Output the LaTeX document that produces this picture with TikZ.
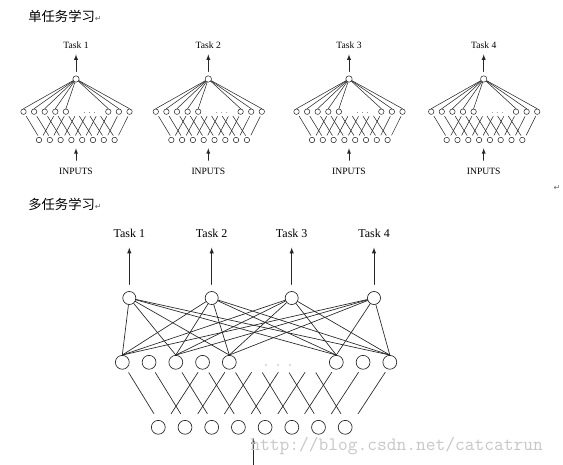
\documentclass[tikz,border=0pt]{standalone}
\usepackage{fontspec}
\setmainfont{Liberation Serif}
\newfontfamily\cjkfont{Noto Sans CJK SC}
\newfontfamily\retfont{DejaVu Sans}
\usetikzlibrary{arrows}
\usetikzlibrary{calc}

\newcommand{\wordret}{{\retfont\fontsize{6}{6}\selectfont\color{black!60}↵}}

\tikzset{
  neuron/.style={circle, draw=black!85, line width=0.5pt, inner sep=0pt, minimum size=10.4pt},
  tinyneuron/.style={circle, draw=black!85, line width=0.4pt, inner sep=0pt, minimum size=4.1pt},
  bigwire/.style={draw=black!85, line width=0.5pt},
  smallwire/.style={draw=black!85, line width=0.4pt},
  heading/.style={anchor=west, inner sep=0pt, font=\cjkfont\fontsize{10}{12}\selectfont},
  bigtask/.style={font=\fontsize{9}{10}\selectfont},
  smalltask/.style={font=\fontsize{7.2}{8}\selectfont},
}

\begin{document}
\begin{tikzpicture}[x=0.75pt, y=-0.75pt, >=latex, line cap=round, line join=round]
  \useasboundingbox (0,0) rectangle (563,464);
  %--- Headings
    \node[heading] (single) at (28,16) {单任务学习\wordret};
    \node[heading] (multi) at (28,204) {多任务学习\wordret};
    \node[inner sep=0pt] (endmark) at (557,188) {\wordret};
  %--- Single task nets
    \foreach \n/\cx in {1/76, 2/208.3, 3/349, 4/483.7} {
      \node[smalltask] (task\n) at (\cx,45) {Task \n};
      \node[tinyneuron, minimum size=4.8pt] (s\n-out) at (\cx,79) {};
      \draw[->, smallwire, shorten <=3pt, shorten >=1pt] (s\n-out) -- (task\n);
      % hidden layer, slots 6-8 are the gap
      \foreach \k in {6,7,8}
        \coordinate (s\n-h\k) at ({\cx-52.5+10.6*(\k-1)},111.7);
      \foreach \k in {1,...,5,9,10,11} {
        \node[tinyneuron] (s\n-h\k) at ({\cx-52.5+10.6*(\k-1)},111.7) {};
        \draw[smallwire] (s\n-out) -- (s\n-h\k.north);
      }
      \foreach \d in {8.5,13.5,18.5}
        \fill[black!70] ({\cx+\d},112.5) circle (0.3pt);
      % input layer
      \foreach \k in {1,...,8}
        \node[tinyneuron] (s\n-i\k) at ({\cx-37+10.8*(\k-1)},140) {};
      \foreach \k [evaluate=\k as \j using int(\k+3)] in {1,...,8} {
        \draw[smallwire, shorten <=4pt, shorten >=4pt] (s\n-h\k.center) -- ([xshift=1.2pt]s\n-i\k.center);
        \draw[smallwire, shorten <=4pt, shorten >=4pt] ([xshift=1.2pt]s\n-i\k.center) -- ([xshift=0.6pt]s\n-h\j.center);
      }
      \node[smalltask] (inputs\n) at (\cx,171.7) {INPUTS};
      \coordinate (s\n-feed) at (\cx,148.3);
      \draw[->, smallwire, shorten <=2.5pt] (inputs\n) -- (s\n-feed);
    }
  %--- Multi task net: outputs
    \foreach \t/\cx in {1/129.3, 2/211.7, 3/291.7, 4/374} {
      \node[bigtask] (task\t) at (\cx,233.3) {Task \t};
      \node[neuron, minimum size=9.8pt] (out\t) at (\cx,298) {};
      \draw[->, bigwire, shorten <=5pt, shorten >=4pt] (out\t) -- (task\t);
    }
  %--- Multi task net: shared hidden layer
    \foreach \k in {6,7,8}
      \coordinate (hid\k) at ({122.3+26.75*(\k-1)},362.3);
    \foreach \k in {1,...,5,9,10,11}
      \node[neuron] (hid\k) at ({122.3+26.75*(\k-1)},362.3) {};
    \foreach \d in {266,278,290}
      \fill[black!60] (\d,365) circle (0.45pt);
    \foreach \t in {1,...,4}
      \foreach \k in {1,3,5,9,11}
        \draw[bigwire] (out\t) -- (hid\k.north);
  %--- Multi task net: inputs
    \foreach \k in {1,...,8}
      \node[neuron] (inp\k) at ({158.3+26.7*(\k-1)},427.3) {};
    \foreach \k [evaluate=\k as \j using int(\k+3)] in {1,...,8} {
      \draw[bigwire, shorten <=9pt, shorten >=12pt] (hid\k.center) -- ([xshift=3pt]inp\k.center);
      \draw[bigwire, shorten <=12pt, shorten >=9pt] ([xshift=3pt]inp\k.center) -- ([xshift=1.5pt]hid\j.center);
    }
    \coordinate (feed) at (253.3,468);
    \coordinate (feedtip) at (253.3,438);
    \draw[->, bigwire] (feed) -- (feedtip);
  %--- Watermark
    \node[anchor=base west, inner sep=0pt, text=black!22, font=\ttfamily\fontsize{14.2}{16}\selectfont] (mark) at (250,450.7) {http://blog.csdn.net/catcatrun};
\end{tikzpicture}
\end{document}
